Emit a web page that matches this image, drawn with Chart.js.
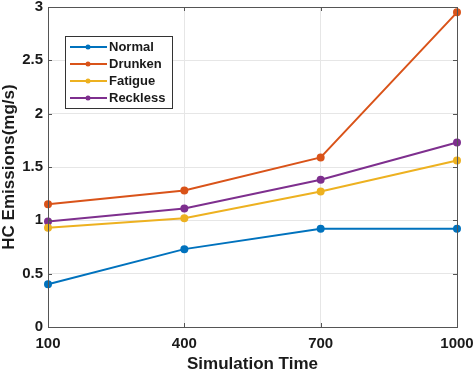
<!DOCTYPE html>
<html>
<head>
<meta charset="utf-8">
<script src="https://cdn.jsdelivr.net/npm/chart.js@4/dist/chart.umd.min.js"></script>
<style>
    html, body { margin: 0; padding: 0; background: #fff; }
    #wrap { width: 474px; height: 371px; position: relative; }
</style>
</head>
<body>
<div id="wrap"><canvas id="hcChart"></canvas></div>
<script>
/* Data */
const timeLabels = ["100", "400", "700", "1000"];
const normal = [0.40, 0.73, 0.92, 0.92];
const drunken = [1.15, 1.28, 1.59, 2.95];
const fatigue = [0.93, 1.02, 1.27, 1.56];
const reckless = [0.99, 1.11, 1.38, 1.73];

/* MATLAB default line colors */
const COLORS = {
    normal: "#0072BD",
    drunken: "#D95319",
    fatigue: "#EDB120",
    reckless: "#7E2F8E",
    grid: "#e6e6e6",
    axis: "#555555",
    text: "#1a1a1a",
};

const FONT = "Arial, 'Liberation Sans', sans-serif";

function series(label, data, color) {
    return {
        label,
        data,
        borderColor: color,
        backgroundColor: color,
        borderWidth: 2,
        pointRadius: 3,
        pointHoverRadius: 3,
        tension: 0,
    };
}

/* Box around the axes with inward ticks, like MATLAB */
const frameBox = {
    id: "frameBox",
    afterDatasetsDraw(chart) {
        const { ctx, chartArea: a, scales } = chart;
        ctx.save();
        ctx.strokeStyle = COLORS.axis;
        ctx.lineWidth = 1;
        ctx.strokeRect(a.left + 0.5, a.top + 0.5, a.right - a.left, a.bottom - a.top);
        ctx.beginPath();
        scales.y.ticks.forEach(t => {
            const y = Math.round(scales.y.getPixelForValue(t.value)) + 0.5;
            ctx.moveTo(a.left, y); ctx.lineTo(a.left + 4, y);
            ctx.moveTo(a.right, y); ctx.lineTo(a.right - 4, y);
        });
        scales.x.ticks.forEach((t, i) => {
            const x = Math.round(scales.x.getPixelForTick(i)) + 0.5;
            ctx.moveTo(x, a.bottom); ctx.lineTo(x, a.bottom - 4);
            ctx.moveTo(x, a.top); ctx.lineTo(x, a.top + 4);
        });
        ctx.stroke();
        ctx.restore();
    },
};

/* Legend drawn inside the plot area, upper left */
const insideLegend = {
    id: "insideLegend",
    afterDraw(chart) {
        const { ctx } = chart;
        const x0 = 65, y0 = 36;
        const w = 107, rowH = 17, h = 72;
        ctx.save();
        ctx.fillStyle = "#fff";
        ctx.fillRect(x0, y0, w, h);
        ctx.strokeStyle = "#333";
        ctx.lineWidth = 1;
        ctx.strokeRect(x0 + 0.5, y0 + 0.5, w, h);
        ctx.font = "bold 13px " + FONT;
        ctx.textBaseline = "middle";
        chart.data.datasets.forEach((ds, i) => {
            const y = y0 + 11 + i * rowH;
            ctx.strokeStyle = ds.borderColor;
            ctx.lineWidth = 2;
            ctx.beginPath();
            ctx.moveTo(x0 + 5, y);
            ctx.lineTo(x0 + 42, y);
            ctx.stroke();
            ctx.fillStyle = ds.borderColor;
            ctx.beginPath();
            ctx.arc(x0 + 23, y, 2.5, 0, Math.PI * 2);
            ctx.fill();
            ctx.fillStyle = COLORS.text;
            ctx.fillText(ds.label, x0 + 44, y);
        });
        ctx.restore();
    },
};

new Chart(document.getElementById("hcChart"), {
    type: "line",
    data: {
        labels: timeLabels,
        datasets: [
            series("Normal", normal, COLORS.normal),
            series("Drunken", drunken, COLORS.drunken),
            series("Fatigue", fatigue, COLORS.fatigue),
            series("Reckless", reckless, COLORS.reckless),
        ],
    },
    options: {
        responsive: true,
        maintainAspectRatio: false,
        animation: false,
        layout: { padding: 0 },
        plugins: {
            legend: { display: false },
            tooltip: { enabled: false },
        },
        scales: {
            x: {
                type: "category",
                offset: false,
                grid: { color: COLORS.grid, drawTicks: false },
                border: { display: false },
                ticks: {
                    color: COLORS.text,
                    font: { family: FONT, size: 15, weight: "bold" },
                    padding: 8,
                    maxRotation: 0,
                },
                title: {
                    display: true,
                    text: "Simulation Time",
                    color: COLORS.text,
                    font: { family: FONT, size: 17, weight: "bold" },
                    padding: { top: 0, bottom: -4 },
                },
                afterFit(scale) {
                    scale.height = 44;
                    scale.paddingLeft = 0;
                    scale.paddingRight = 17;
                },
            },
            y: {
                min: 0,
                max: 3,
                grid: { color: COLORS.grid, drawTicks: false },
                border: { display: false },
                ticks: {
                    stepSize: 0.5,
                    color: COLORS.text,
                    font: { family: FONT, size: 15, weight: "bold" },
                    padding: 5,
                    callback: v => String(v),
                },
                title: {
                    display: true,
                    text: "HC Emissions(mg/s)",
                    color: COLORS.text,
                    font: { family: FONT, size: 17, weight: "bold" },
                    padding: { top: -1, bottom: 0 },
                },
                afterFit(scale) {
                    scale.width = 48;
                    scale.paddingTop = 7;
                    scale.paddingBottom = 0;
                },
            },
        },
    },
    plugins: [frameBox, insideLegend],
});
</script>
</body>
</html>
